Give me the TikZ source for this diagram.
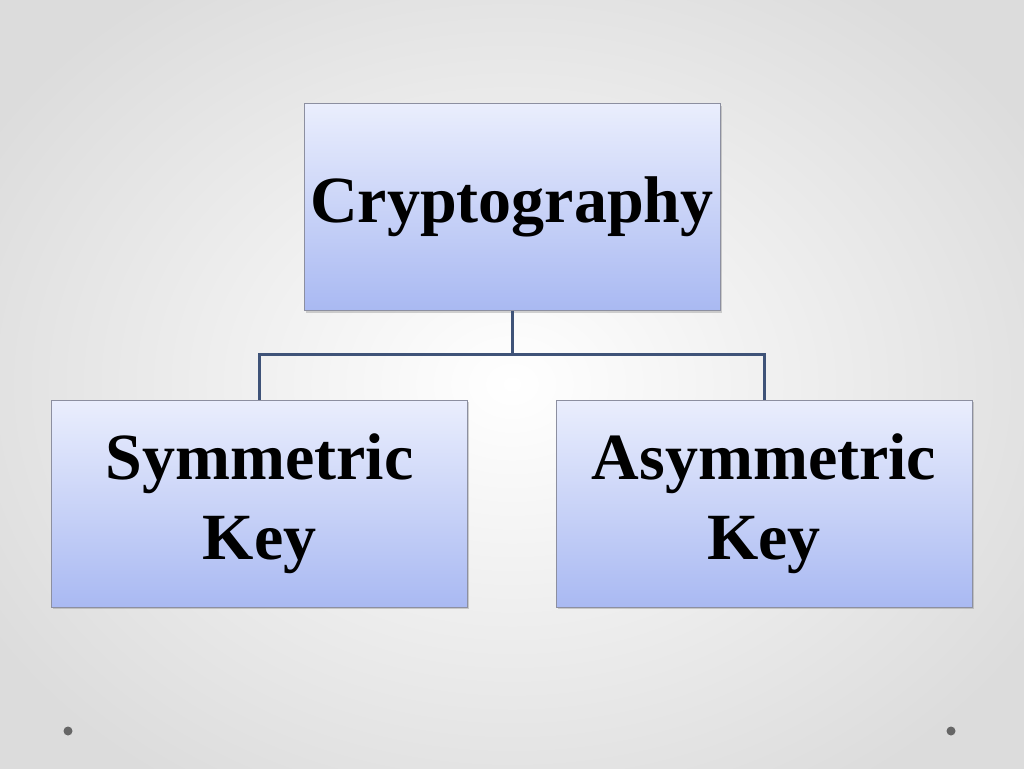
\documentclass[tikz,border=0pt]{standalone}
\usepackage{fontspec}
\setmainfont{Liberation Serif}
\usetikzlibrary{shadows}
\definecolor{btop}{HTML}{EAEEFD}
\definecolor{bbot}{HTML}{A9B9F2}
\definecolor{bord}{HTML}{8C8FA0}
\definecolor{lnk}{HTML}{3F5378}
\definecolor{bgout}{HTML}{DCDCDC}
\begin{document}
\begin{tikzpicture}[x=1pt,y=-1pt,
  boxst/.style={draw=bord,line width=0.8pt,top color=btop,bottom color=bbot,
    minimum width=416pt,minimum height=207pt,align=center,
    font=\fontsize{66}{80}\selectfont\bfseries,
    drop shadow={shadow xshift=1.5pt,shadow yshift=-2pt,opacity=0.35}},
  lnkst/.style={draw=lnk,line width=3pt}]
\useasboundingbox (0,0) rectangle (1024,768);
\shade[inner color=white,outer color=bgout] (-100,-100) rectangle (1124,868);
\node[boxst] (c) at (512,207) {Cryptography};
\node[boxst] (s) at (259.5,503.5) {Symmetric\\Key};
\node[boxst] (a) at (764,503.5) {Asymmetric\\Key};
\coordinate (m) at (512,354);
\draw[lnkst] (c.south) -- (m) -| (s.north);
\draw[lnkst] (m) -| (a.north);
\fill[gray!80!black] (68,731) circle (4.5);
\fill[gray!80!black] (951,731) circle (4.5);
\end{tikzpicture}
\end{document}
